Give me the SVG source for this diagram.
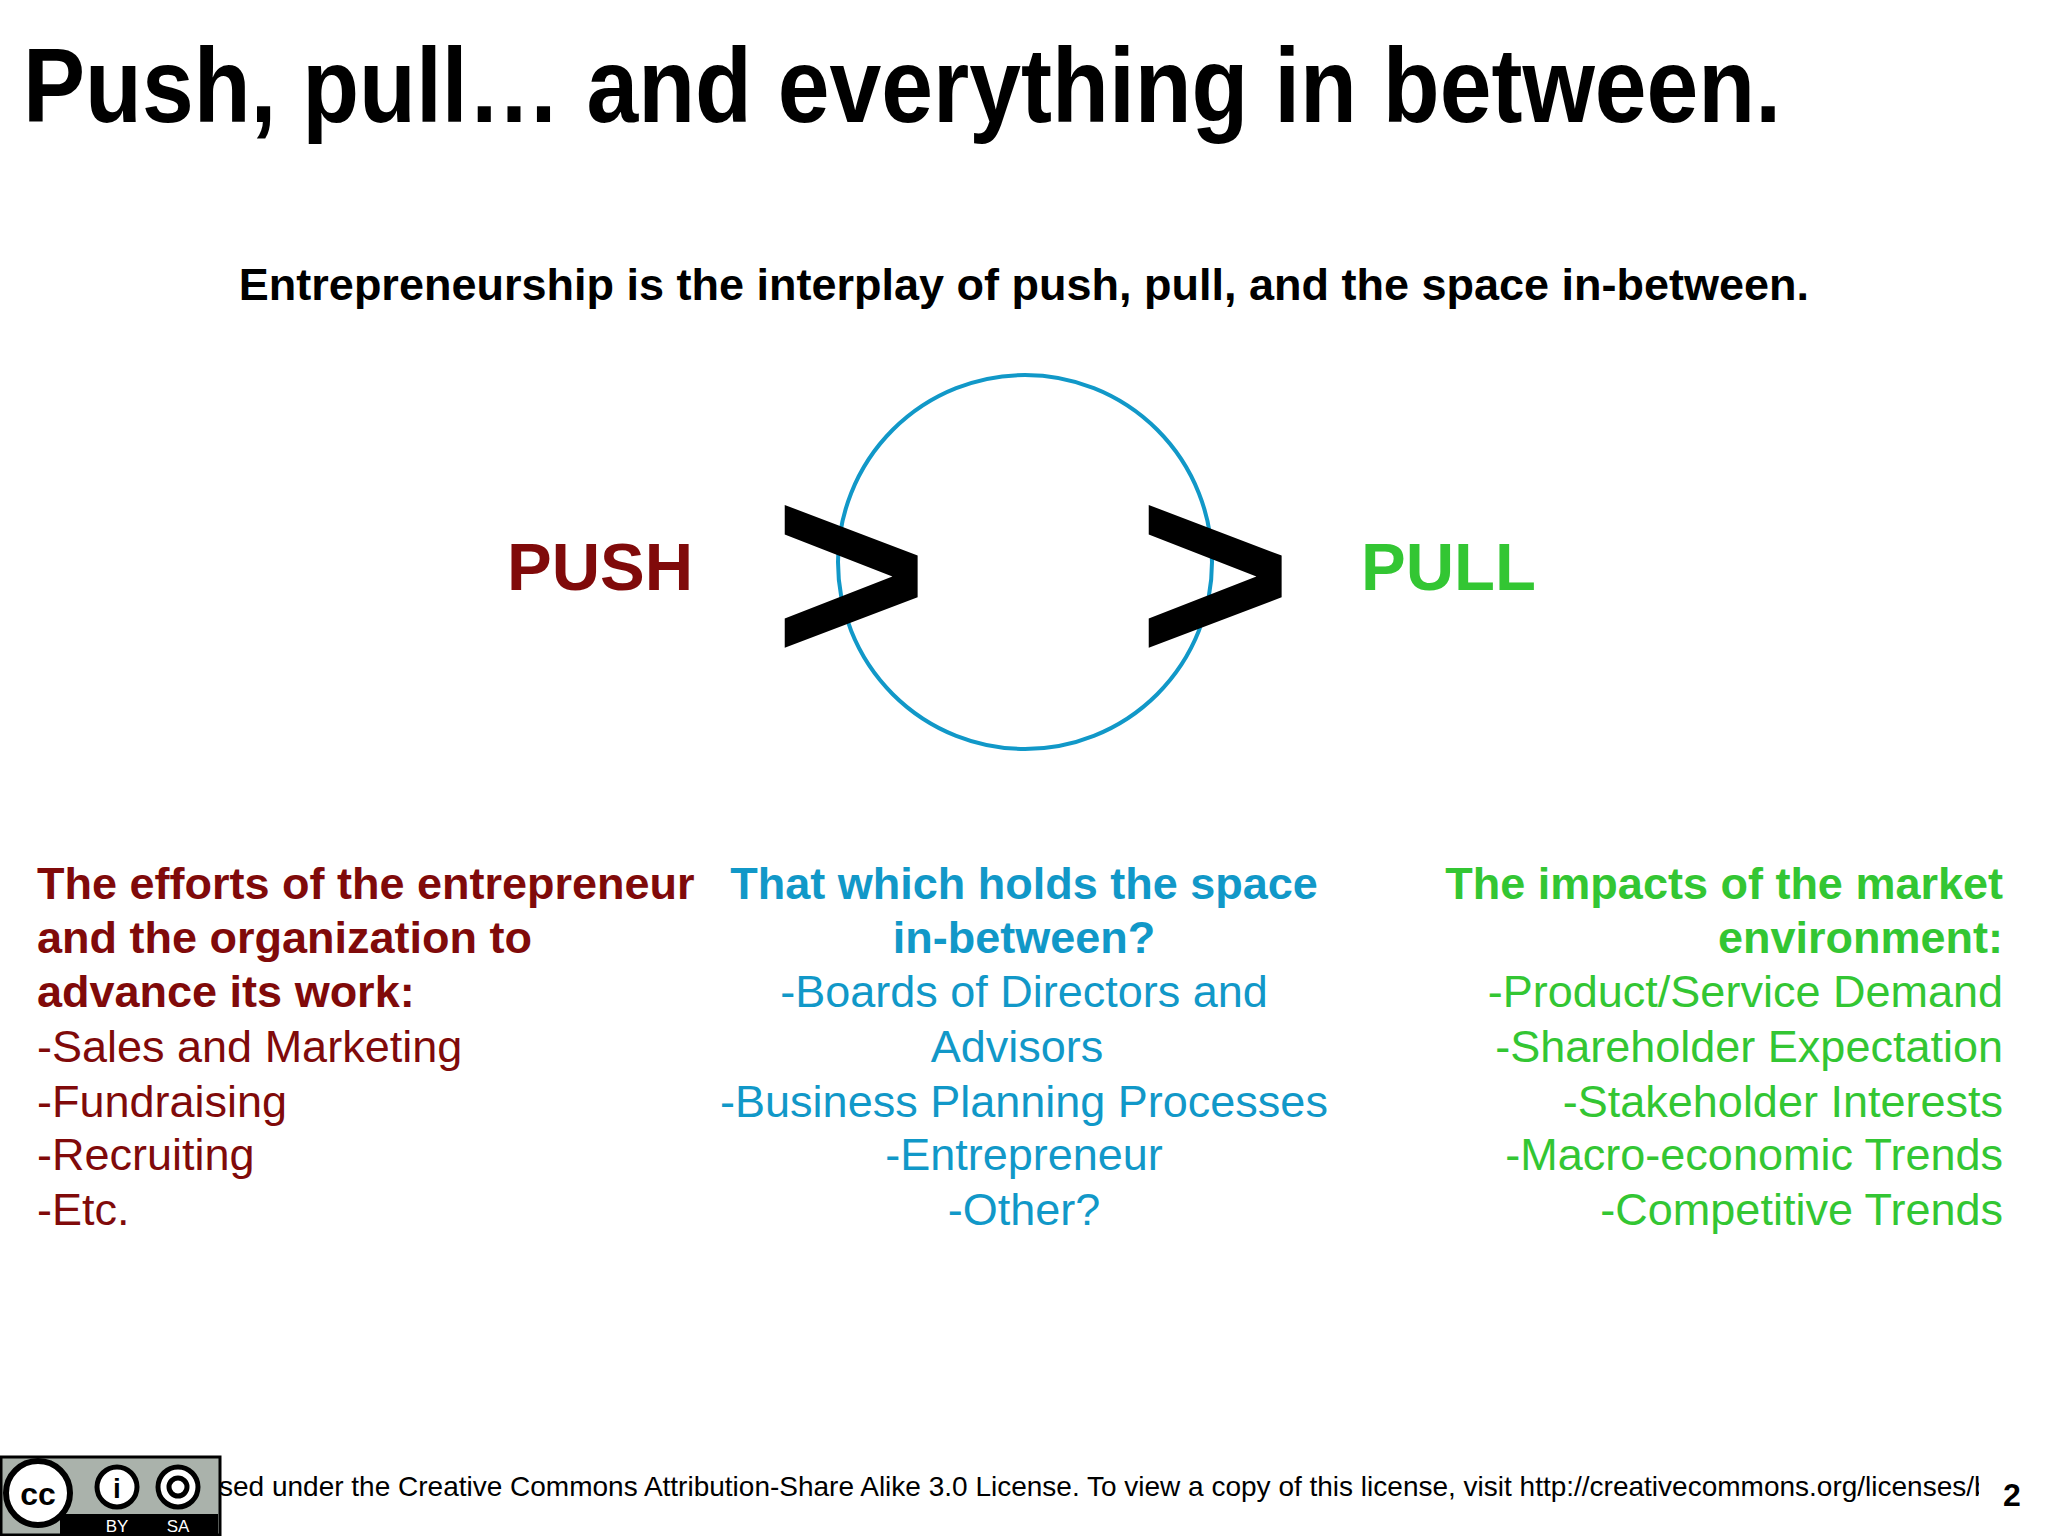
<svg xmlns="http://www.w3.org/2000/svg" width="2048" height="1536" viewBox="0 0 2048 1536">
<style>
text{font-family:"Liberation Sans",Arial,sans-serif}
.b{font-weight:bold}
.red{fill:#800a0a}.blue{fill:#1198c8}.green{fill:#33c633}
.col{font-size:45px}
</style>
<defs><clipPath id="fc"><rect x="219" y="1460" width="1760" height="76"/></clipPath></defs>
<rect width="2048" height="1536" fill="#fff"/>
<text id="title" class="b" x="23" y="122" font-size="106" textLength="1758" lengthAdjust="spacingAndGlyphs">Push, pull… and everything in between.</text>
<text id="subtitle" class="b" x="1024" y="300" font-size="45" text-anchor="middle">Entrepreneurship is the interplay of push, pull, and the space in-between.</text>
<g id="circle"><circle cx="1025" cy="562" r="187" fill="none" stroke="#1198c8" stroke-width="4"/></g>
<g id="connectors">
<text x="851" y="664" font-size="265" class="b" text-anchor="middle">&gt;</text>
<text x="1215" y="664" font-size="265" class="b" text-anchor="middle">&gt;</text>
</g>
<g id="push"><text class="b red" x="507" y="590" font-size="67">PUSH</text></g>
<g id="pull"><text class="b green" x="1361" y="590" font-size="67">PULL</text></g>
<g id="left" class="col red">
<text class="b" x="37" y="899">The efforts of the entrepreneur</text>
<text class="b" x="37" y="953">and the organization to</text>
<text class="b" x="37" y="1007">advance its work:</text>
<text x="37" y="1062">-Sales and Marketing</text>
<text x="37" y="1117">-Fundraising</text>
<text x="37" y="1170">-Recruiting</text>
<text x="37" y="1225">-Etc.</text>
</g>
<g id="center" class="col blue" text-anchor="middle">
<text class="b" x="1024" y="899">That which holds the space</text>
<text class="b" x="1024" y="953">in-between?</text>
<text x="1024" y="1007">-Boards of Directors and</text>
<text x="1017" y="1062">Advisors</text>
<text x="1024" y="1117">-Business Planning Processes</text>
<text x="1024" y="1170">-Entrepreneur</text>
<text x="1024" y="1225">-Other?</text>
</g>
<g id="right" class="col green" text-anchor="end">
<text class="b" x="2003" y="899">The impacts of the market</text>
<text class="b" x="2003" y="953">environment:</text>
<text x="2003" y="1007">-Product/Service Demand</text>
<text x="2003" y="1062">-Shareholder Expectation</text>
<text x="2003" y="1117">-Stakeholder Interests</text>
<text x="2003" y="1170">-Macro-economic Trends</text>
<text x="2003" y="1225">-Competitive Trends</text>
</g>
<g id="footer">
<text x="219" y="1496" font-size="28" clip-path="url(#fc)">sed under the Creative Commons Attribution-Share Alike 3.0 License. To view a copy of this license, visit http://creativecommons.org/licenses/by-sa/3.0/</text>
<text class="b" x="2003" y="1506" font-size="32">2</text>
</g>
<g id="cc-badge">
<rect x="1" y="1457" width="219" height="78" fill="#aab2ab" stroke="#000" stroke-width="3"/>
<rect x="60" y="1514" width="158" height="20" fill="#000"/>
<circle cx="38" cy="1493" r="32" fill="#fff" stroke="#000" stroke-width="6"/>
<text class="b" x="38" y="1505" font-size="32" text-anchor="middle">cc</text>
<circle cx="117" cy="1487" r="20" fill="#fff" stroke="#000" stroke-width="5"/>
<text class="b" x="117" y="1498" font-size="28" text-anchor="middle">i</text>
<circle cx="178" cy="1487" r="20" fill="#fff" stroke="#000" stroke-width="5"/>
<circle cx="178" cy="1487" r="9" fill="none" stroke="#000" stroke-width="5"/>
<text x="117" y="1532" font-size="17" fill="#fff" text-anchor="middle">BY</text>
<text x="178" y="1532" font-size="17" fill="#fff" text-anchor="middle">SA</text>
</g>
</svg>
